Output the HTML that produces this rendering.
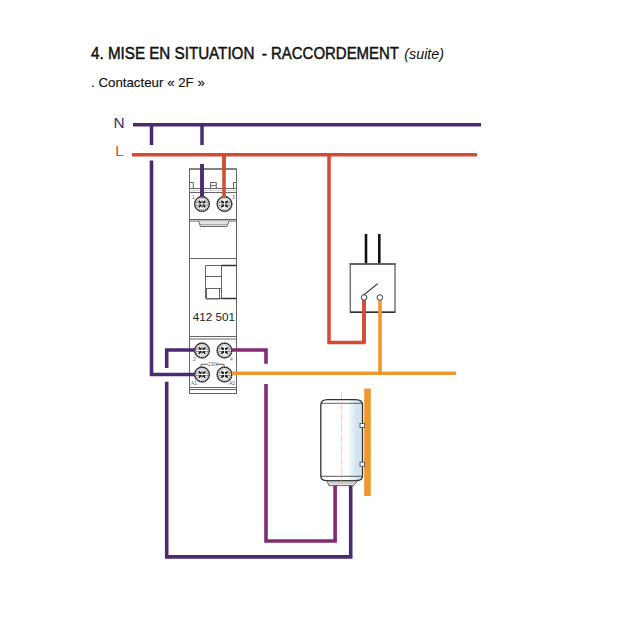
<!DOCTYPE html>
<html><head><meta charset="utf-8">
<style>
html,body{margin:0;padding:0;background:#fff;}
body{width:620px;height:620px;position:relative;overflow:hidden;font-family:"Liberation Sans",sans-serif;}
.t{position:absolute;white-space:pre;color:#111;}
.h{font-size:16px;-webkit-text-stroke:0.45px #111;transform-origin:0 0;}
#t1{left:91px;top:45px;transform:scaleX(0.949);}
#t2{left:261.8px;top:45px;}
#t3{left:271.4px;top:45px;transform:scaleX(0.935);}
#t4{left:404.3px;top:46.3px;font-size:14.3px;font-style:italic;}
#sub{left:91px;top:74.5px;font-size:13.3px;-webkit-text-stroke:0.15px #111;}
svg{position:absolute;left:0;top:0;}
</style></head><body>
<div class="t h" id="t1">4. MISE EN SITUATION</div>
<div class="t h" id="t2">-</div>
<div class="t h" id="t3">RACCORDEMENT</div>
<div class="t" id="t4">(suite)</div>
<div class="t" id="sub">. Contacteur « 2F »</div>
<svg width="620" height="620" viewBox="0 0 620 620">
<defs>

</defs>
<!-- labels N L -->
<text x="113.6" y="128.1" font-family="Liberation Sans" font-size="15.4" fill="#3b2e6b">N</text>
<text x="115.3" y="156.1" font-family="Liberation Sans" font-size="15.4" fill="#cc4f36">L</text>
<!-- N bus -->
<g stroke="#4a2b72" stroke-width="3.5" fill="none">
 <path d="M133 124.8H481"/>
 <path d="M151.5 124.8V145"/>
 <path d="M202 124.8V145"/>
</g>
<!-- L bus -->
<g stroke="#d44a32" stroke-width="3.5" fill="none">
 <path d="M132 154.8H477"/>
 <path d="M224 154.8V198"/>
 <path d="M329 154.8V342.5H364V298"/>
</g>
<!-- module -->
<g fill="none" stroke="#666" stroke-width="1">
 <rect x="189.5" y="169" width="47" height="224.5" fill="#fff"/>
 <path d="M189.5 188.5H193.3V182.5H189.5M210.5 188.5V182.5H216.3V188.5M211 185.6H216M236.5 182.5H233.5V188.5"/>
 <path d="M189.5 188.5H236.5M189.5 192.5H236.5"/><path d="M189.5 190.5H236.5" stroke="#d4d4d4"/>
 <path d="M189.5 219.5H236.5M189.5 221H236.5"/>
 <path d="M198.5 221L200.5 226.5H227L229 221" fill="#e2e2e2"/><path d="M200 224.5H227.5" stroke="#999" stroke-width="0.8"/>
 <path d="M189.5 258.5H236.5"/>
 <path d="M205.5 265.5H236.5M205.5 298.5H236.5M205.5 265.5V298.5M221.5 265.5V298.5M205.5 276.5H221.5M205.5 288.5H221.5"/>
 <rect x="206.5" y="288.5" width="13" height="10.5"/>
 <path d="M189.5 336.5H236.5M189.5 339H236.5"/>
 <path d="M189.5 387.5H236.5M189.5 389.5H236.5"/>
 <path d="M201 368V364.3H208M216 364.3H224V368"/>
</g>
<path d="M189.5 169H236.5" stroke="#555" stroke-width="1.2"/>
<path d="M221.5 265.5H236.5M221.5 298.5H236.5" stroke="#333" stroke-width="1.4" fill="none"/>
<text x="192.8" y="321.2" font-family="Liberation Sans" font-size="11.7" fill="#222">412 501</text>
<text x="192" y="198.5" font-family="Liberation Sans" font-size="5" fill="#666">1</text>
<text x="232" y="198.5" font-family="Liberation Sans" font-size="5" fill="#666">3</text>
<text x="193" y="361" font-family="Liberation Sans" font-size="5" fill="#666">2</text>
<text x="230" y="361" font-family="Liberation Sans" font-size="5" fill="#666">4</text>
<text x="191" y="385" font-family="Liberation Sans" font-size="5" fill="#666">A1</text>
<text x="229" y="385" font-family="Liberation Sans" font-size="5" fill="#666">A2</text>
<text x="208" y="366" font-family="Liberation Sans" font-size="4.5" fill="#666">230V~</text>
<!-- wires into top terminals -->
<g stroke-width="3.5" fill="none">
 <path d="M202 164V198" stroke="#4a2b72"/>
</g>
<g transform="translate(202 204)">
 <circle r="7.4" fill="#fff" stroke="#8a8a8a" stroke-width="1.5"/>
 <circle r="7.2" fill="none" stroke="#1a1a1a" stroke-width="1.2" stroke-dasharray="1.5 0.7"/>
 <circle r="5.7" fill="none" stroke="#666" stroke-width="0.5"/>
 <path d="M0 -4.3L1.6 -1.6L4.3 0L1.6 1.6L0 4.3L-1.6 1.6L-4.3 0L-1.6 -1.6Z" fill="#111"/>
 <path d="M-3.2 -3.2L3.2 3.2M3.2 -3.2L-3.2 3.2" stroke="#111" stroke-width="1.6"/>
 <path d="M-5.6 -1.35H5.6M-5.6 1.15H5.6" stroke="#222" stroke-width="0.6"/>
 <path d="M-5.8 -0.1H5.8" stroke="#fff" stroke-width="1.1"/>
 <path d="M0 -4.6V4.6" stroke="#fff" stroke-width="0.9"/>
</g>
<g transform="translate(224.5 204)">
 <circle r="7.4" fill="#fff" stroke="#8a8a8a" stroke-width="1.5"/>
 <circle r="7.2" fill="none" stroke="#1a1a1a" stroke-width="1.2" stroke-dasharray="1.5 0.7"/>
 <circle r="5.7" fill="none" stroke="#666" stroke-width="0.5"/>
 <path d="M0 -4.3L1.6 -1.6L4.3 0L1.6 1.6L0 4.3L-1.6 1.6L-4.3 0L-1.6 -1.6Z" fill="#111"/>
 <path d="M-3.2 -3.2L3.2 3.2M3.2 -3.2L-3.2 3.2" stroke="#111" stroke-width="1.6"/>
 <path d="M-5.6 -1.35H5.6M-5.6 1.15H5.6" stroke="#222" stroke-width="0.6"/>
 <path d="M-5.8 -0.1H5.8" stroke="#fff" stroke-width="1.1"/>
 <path d="M0 -4.6V4.6" stroke="#fff" stroke-width="0.9"/>
</g>
<g transform="translate(202 350.5)">
 <circle r="7.4" fill="#fff" stroke="#8a8a8a" stroke-width="1.5"/>
 <circle r="7.2" fill="none" stroke="#1a1a1a" stroke-width="1.2" stroke-dasharray="1.5 0.7"/>
 <circle r="5.7" fill="none" stroke="#666" stroke-width="0.5"/>
 <path d="M0 -4.3L1.6 -1.6L4.3 0L1.6 1.6L0 4.3L-1.6 1.6L-4.3 0L-1.6 -1.6Z" fill="#111"/>
 <path d="M-3.2 -3.2L3.2 3.2M3.2 -3.2L-3.2 3.2" stroke="#111" stroke-width="1.6"/>
 <path d="M-5.6 -1.35H5.6M-5.6 1.15H5.6" stroke="#222" stroke-width="0.6"/>
 <path d="M-5.8 -0.1H5.8" stroke="#fff" stroke-width="1.1"/>
 <path d="M0 -4.6V4.6" stroke="#fff" stroke-width="0.9"/>
</g>
<g transform="translate(224.5 350.5)">
 <circle r="7.4" fill="#fff" stroke="#8a8a8a" stroke-width="1.5"/>
 <circle r="7.2" fill="none" stroke="#1a1a1a" stroke-width="1.2" stroke-dasharray="1.5 0.7"/>
 <circle r="5.7" fill="none" stroke="#666" stroke-width="0.5"/>
 <path d="M0 -4.3L1.6 -1.6L4.3 0L1.6 1.6L0 4.3L-1.6 1.6L-4.3 0L-1.6 -1.6Z" fill="#111"/>
 <path d="M-3.2 -3.2L3.2 3.2M3.2 -3.2L-3.2 3.2" stroke="#111" stroke-width="1.6"/>
 <path d="M-5.6 -1.35H5.6M-5.6 1.15H5.6" stroke="#222" stroke-width="0.6"/>
 <path d="M-5.8 -0.1H5.8" stroke="#fff" stroke-width="1.1"/>
 <path d="M0 -4.6V4.6" stroke="#fff" stroke-width="0.9"/>
</g>
<g transform="translate(202 374.5)">
 <circle r="7.4" fill="#fff" stroke="#8a8a8a" stroke-width="1.5"/>
 <circle r="7.2" fill="none" stroke="#1a1a1a" stroke-width="1.2" stroke-dasharray="1.5 0.7"/>
 <circle r="5.7" fill="none" stroke="#666" stroke-width="0.5"/>
 <path d="M0 -4.3L1.6 -1.6L4.3 0L1.6 1.6L0 4.3L-1.6 1.6L-4.3 0L-1.6 -1.6Z" fill="#111"/>
 <path d="M-3.2 -3.2L3.2 3.2M3.2 -3.2L-3.2 3.2" stroke="#111" stroke-width="1.6"/>
 <path d="M-5.6 -1.35H5.6M-5.6 1.15H5.6" stroke="#222" stroke-width="0.6"/>
 <path d="M-5.8 -0.1H5.8" stroke="#fff" stroke-width="1.1"/>
 <path d="M0 -4.6V4.6" stroke="#fff" stroke-width="0.9"/>
</g>
<g transform="translate(224.5 374.5)">
 <circle r="7.4" fill="#fff" stroke="#8a8a8a" stroke-width="1.5"/>
 <circle r="7.2" fill="none" stroke="#1a1a1a" stroke-width="1.2" stroke-dasharray="1.5 0.7"/>
 <circle r="5.7" fill="none" stroke="#666" stroke-width="0.5"/>
 <path d="M0 -4.3L1.6 -1.6L4.3 0L1.6 1.6L0 4.3L-1.6 1.6L-4.3 0L-1.6 -1.6Z" fill="#111"/>
 <path d="M-3.2 -3.2L3.2 3.2M3.2 -3.2L-3.2 3.2" stroke="#111" stroke-width="1.6"/>
 <path d="M-5.6 -1.35H5.6M-5.6 1.15H5.6" stroke="#222" stroke-width="0.6"/>
 <path d="M-5.8 -0.1H5.8" stroke="#fff" stroke-width="1.1"/>
 <path d="M0 -4.6V4.6" stroke="#fff" stroke-width="0.9"/>
</g>
<!-- redraw wire tails on top -->
<path d="M202 164V197" stroke="#4a2b72" stroke-width="3.5"/>
<path d="M224 156V197" stroke="#d44a32" stroke-width="3.5"/>
<!-- N left long: down to A1 -->
<g stroke="#4a2b72" stroke-width="3.6" fill="none">
 <path d="M151.5 160.5V374.5H195"/>
 <path d="M195 350H166.7V368"/>
 <path d="M166.7 381.8V556.9H350.7V485"/>
</g>
<!-- magenta -->
<g stroke="#832b74" stroke-width="3.6" fill="none">
 <path d="M232 350H266V363.7"/>
 <path d="M266 384V541H335.1V485"/>
</g>
<!-- switch -->
<g>
 <path d="M366 234V264M379.3 234V264" stroke="#111" stroke-width="2.6"/>
 <path d="M350.3 264H395V312.2H350.3Z" fill="none" stroke="#777" stroke-width="1.5"/>
 <path d="M350.3 312.2H395" stroke="#333" stroke-width="1.5"/><path d="M349.6 264H395.7" stroke="#555" stroke-width="1.5"/>
 <path d="M363.6 295.2L377.7 283.6" stroke="#222" stroke-width="1.1"/>
</g>
<path d="M380 300.5V373.3H456M232 373.3H380" stroke="#ef9830" stroke-width="3.6" fill="none"/>
<path d="M364 300.5V342.5" stroke="#d44a32" stroke-width="3.5"/>
<circle cx="364.1" cy="297.5" r="2.8" fill="#fff" stroke="#333" stroke-width="1"/>
<circle cx="379.8" cy="297.5" r="2.8" fill="#fff" stroke="#333" stroke-width="1"/>
<!-- tank -->
<defs>
 <linearGradient id="tg" x1="0" x2="1" y1="0" y2="0">
  <stop offset="0" stop-color="#fff"/>
  <stop offset="0.64" stop-color="#fff"/>
  <stop offset="0.86" stop-color="#cde3ef"/>
  <stop offset="0.94" stop-color="#cfe4f0"/>
  <stop offset="1" stop-color="#e2ecf4"/>
 </linearGradient>
</defs>
<rect x="364.2" y="388.5" width="6.6" height="107.5" fill="#ef9830"/>
<path d="M320.8 476V405.5Q320.8 399.7 327.5 399.7H355.8Q362.5 399.7 362.5 405.5V476Q362.5 480.7 356 480.7H327Q320.8 480.7 320.8 476Z" fill="url(#tg)" stroke="#333" stroke-width="1.3"/>
<path d="M321 403.3H362" stroke="#555" stroke-width="0.9"/>
<path d="M321 476.3H362" stroke="#444" stroke-width="0.9"/>
<path d="M327 481L329 485.6H353.7L357.3 481Z" fill="#e8e8e8" stroke="#555" stroke-width="0.9"/>
<path d="M329 483H355" stroke="#999" stroke-width="0.7"/>
<path d="M341.6 392V486" stroke="#aaa" stroke-width="0.55" stroke-dasharray="7 1.2 1.5 1.2"/>
<rect x="360" y="423.5" width="4.5" height="4" fill="#fff" stroke="#555" stroke-width="0.9"/>
<rect x="360" y="462.2" width="4.5" height="4" fill="#fff" stroke="#555" stroke-width="0.9"/>
</svg>
</body></html>
